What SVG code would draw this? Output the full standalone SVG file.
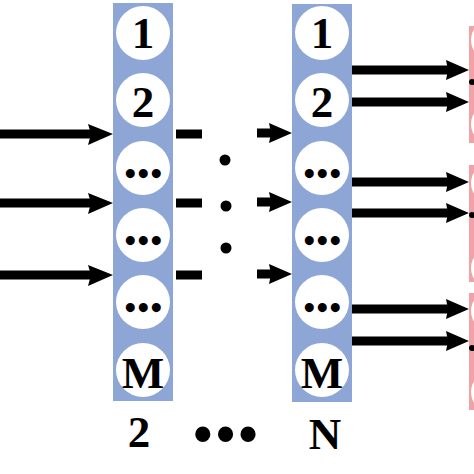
<svg xmlns="http://www.w3.org/2000/svg" width="474" height="474" viewBox="0 0 474 474">
<style>
.col{fill:#8DA6D5}
.pink{fill:#F1A2A6}
.node{fill:#ffffff}
.lbl{font-family:"Liberation Serif","Times New Roman",serif;font-weight:bold;font-size:45px;fill:#000;text-anchor:middle}
.dots{font-family:"Liberation Serif","Times New Roman",serif;font-weight:bold;font-size:33px;letter-spacing:1.5px;fill:#000;text-anchor:middle}
.bar{stroke:#000;stroke-width:9;fill:none}
.head{fill:#000}
.dot{fill:#000}
</style>
<rect width="474" height="474" fill="#ffffff"/>
<g id="layer-2">
<rect class="col" x="113" y="3" width="60" height="398"/>
<circle class="node" cx="143" cy="33" r="27"/>
<circle class="node" cx="143" cy="100" r="27"/>
<circle class="node" cx="143" cy="168" r="27"/>
<circle class="node" cx="143" cy="235" r="27"/>
<circle class="node" cx="143" cy="302" r="27"/>
<circle class="node" cx="143" cy="370" r="27"/>
<text class="lbl" x="143" y="48">1</text>
<text class="lbl" x="143" y="117">2</text>
<text class="dots" x="144" y="185">•••</text>
<text class="dots" x="144" y="252">•••</text>
<text class="dots" x="144" y="319">•••</text>
<text class="lbl" x="143" y="388">M</text>
</g>
<g id="layer-N">
<rect class="col" x="292" y="4" width="60" height="398"/>
<circle class="node" cx="322" cy="33" r="27"/>
<circle class="node" cx="322" cy="100" r="27"/>
<circle class="node" cx="322" cy="168" r="27"/>
<circle class="node" cx="322" cy="235" r="27"/>
<circle class="node" cx="322" cy="302" r="27"/>
<circle class="node" cx="322" cy="370" r="27"/>
<text class="lbl" x="322" y="48">1</text>
<text class="lbl" x="322" y="117">2</text>
<text class="dots" x="323" y="185">•••</text>
<text class="dots" x="323" y="252">•••</text>
<text class="dots" x="323" y="319">•••</text>
<text class="lbl" x="322" y="388">M</text>
</g>
<g id="out-1">
<rect class="pink" x="469" y="26" width="10" height="117"/>
<circle class="node" cx="491" cy="40" r="20"/>
<circle class="node" cx="491" cy="124" r="20"/>
<circle class="dot" cx="472" cy="82" r="3"/>
</g>
<g id="out-2">
<rect class="pink" x="469" y="165" width="10" height="117"/>
<circle class="node" cx="491" cy="183" r="20"/>
<circle class="node" cx="491" cy="268" r="20"/>
<circle class="dot" cx="472" cy="215" r="3"/>
</g>
<g id="out-3">
<rect class="pink" x="469" y="293" width="10" height="117"/>
<circle class="node" cx="491" cy="311" r="20"/>
<circle class="node" cx="491" cy="392" r="20"/>
<circle class="dot" cx="472" cy="348" r="3"/>
</g>
<g id="connectors">
<path class="bar" d="M0 134H92M0 203H92M0 275H92"/>
<path class="head" d="M88 124L113 134L88 145L91 134Z M88 193L113 203L88 214L91 203Z M88 265L113 275L88 286L91 275Z"/>
<path class="bar" d="M176 134H202M176 203H202M176 275H202"/>
<circle class="dot" cx="225" cy="160" r="5.5"/>
<circle class="dot" cx="226" cy="206" r="5.5"/>
<circle class="dot" cx="226" cy="248" r="5.5"/>
<path class="bar" d="M257 133H272M257 202H272M257 274H272"/>
<path class="head" d="M269 123L292 133L269 143L271 133Z M269 192L292 202L269 212L271 202Z M269 264L292 274L269 284L271 274Z"/>
<path class="bar" d="M352 70H449M352 102H449M352 182H449M352 213H449M352 309H449M352 341H449"/>
<path class="head" d="M446 60L469 70L446 80L448 70Z M446 92L469 102L446 112L448 102Z M446 172L469 182L446 192L448 182Z M446 203L469 213L446 223L448 213Z M446 299L469 309L446 319L448 309Z M446 331L469 341L446 351L448 341Z"/>
</g>
<g id="bottom-labels">
<text class="lbl" x="139" y="447">2</text>
<text class="lbl" x="227" y="453" style="font-size:56px;letter-spacing:3px">•••</text>
<text class="lbl" x="325" y="449">N</text>
</g>
</svg>
